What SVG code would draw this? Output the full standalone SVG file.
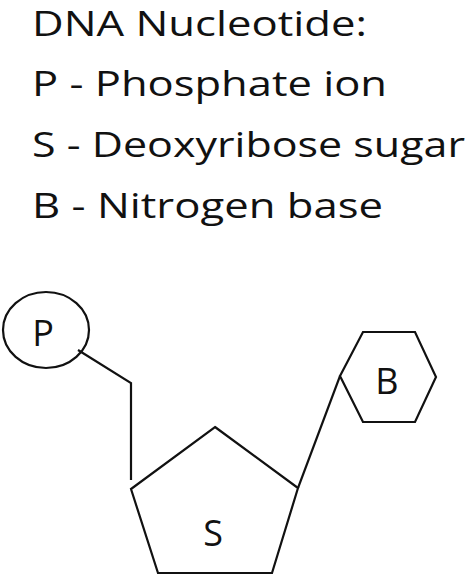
<svg xmlns="http://www.w3.org/2000/svg" width="474" height="579" viewBox="0 0 474 579">
<style>
.t{font-family:"Open Sans","Noto Sans","Liberation Sans",sans-serif;font-size:34px;fill:#111}
.s{fill:none;stroke:#111;stroke-width:2.2;stroke-linejoin:miter}
.lbl{font-family:"Open Sans","Noto Sans","Liberation Sans",sans-serif;font-size:36px;fill:#111;text-anchor:middle}
</style>
<rect width="474" height="579" fill="#fff"/>
<g id="legend">
<text class="t" x="32" y="36" textLength="335" lengthAdjust="spacingAndGlyphs">DNA Nucleotide:</text>
<text class="t" x="32" y="96" textLength="355" lengthAdjust="spacingAndGlyphs">P - Phosphate ion</text>
<text class="t" x="32" y="157" textLength="433" lengthAdjust="spacingAndGlyphs">S - Deoxyribose sugar</text>
<text class="t" x="32" y="218" textLength="351" lengthAdjust="spacingAndGlyphs">B - Nitrogen base</text>
</g>
<g id="connectors">
<polyline class="s" points="78,350 131,383 131,480"/>
<line class="s" x1="340" y1="376" x2="298" y2="488"/>
</g>
<g id="phosphate">
<ellipse class="s" cx="46" cy="330" rx="43" ry="38"/>
<text class="lbl" x="43" y="346">P</text>
</g>
<g id="sugar">
<polygon class="s" points="215,427 298,488 272,573 158,573 131,489"/>
<text class="lbl" x="213" y="546">S</text>
</g>
<g id="base">
<polygon class="s" points="363,332 415,332 436,377 415,422 363,422 340,376"/>
<text class="lbl" x="387" y="394">B</text>
</g>
</svg>
